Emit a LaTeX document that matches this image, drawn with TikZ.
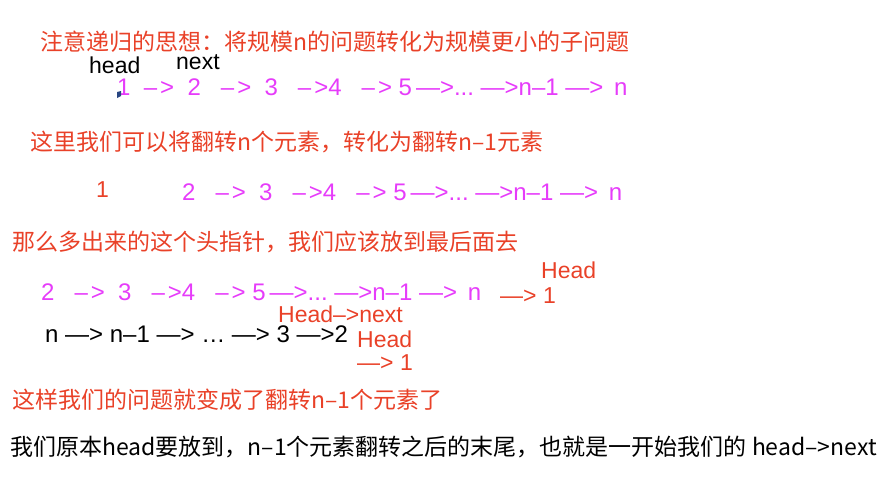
\documentclass[tikz,border=0pt]{standalone}
\usepackage{fontspec}
\setmainfont{Liberation Sans}
\newfontfamily\cjk{Noto Sans CJK SC}
\usepackage{xcolor}
\definecolor{tipred}{RGB}{233,65,40}
\definecolor{chainpink}{RGB}{230,60,250}
\definecolor{cursorblue}{RGB}{40,70,130}
\newcommand{\sar}{–\kern3pt>}

\begin{document}
\begin{tikzpicture}[x=1pt, y=-1pt]
    \tikzstyle{tip} = [text=tipred, font=\cjk\fontsize{23}{28}\selectfont, anchor=base west, inner sep=0pt]
    \tikzstyle{note} = [text=black, font=\cjk\fontsize{23}{28}\selectfont, anchor=base west, inner sep=0pt]
    \tikzstyle{chain} = [text=chainpink, font=\fontsize{24}{28}\selectfont, anchor=base west, inner sep=0pt]
    \tikzstyle{latin} = [text=black, font=\fontsize{23}{28}\selectfont, anchor=base west, inner sep=0pt]
    \tikzstyle{redtxt} = [text=tipred, font=\fontsize{23}{28}\selectfont, anchor=base west, inner sep=0pt]

    \useasboundingbox (0,0) rectangle (885,480);

    % 第一段
    \node[tip] (idea) at (40,50) {注意递归的思想：将规模n的问题转化为规模更小的子问题};
    \node[latin] (head) at (89,73) {head};
    \node[latin] (next) at (176,69) {next};
    \node[chain] (full) at (117,95) {1 \ \sar{} \ 2 \ \ \sar{} \ 3 \ \ \sar{}4 \ \ \sar{} 5\,—>...\ —>n–1 —> \,n};
    \fill[cursorblue] (117,92) -- (121,91) -- (121,96) -- (117,98) -- cycle;

    % 第二段
    \node[tip] (split) at (30,150) {这里我们可以将翻转n个元素，转化为翻转n–1元素};
    \node[redtxt] (one) at (96,197) {1};
    \node[chain] (rest) at (182,200) {2 \ \ \sar{} \ 3 \ \ \sar{}4 \ \ \sar{} 5\,—>...\ —>n–1 —> \,n};

    % 第三段
    \node[tip] (move) at (12,250) {那么多出来的这个头指针，我们应该放到最后面去};
    \node[redtxt] (headA) at (541,278) {Head};
    \node[chain] (restB) at (41,300) {2 \ \ \sar{} \ 3 \ \ \sar{}4 \ \ \sar{} 5\,—>...\ —>n–1 —> \,n};
    \node[redtxt] (toA) at (500,303) {—> 1};
    \node[redtxt] (hnext) at (278,322) {Head–>next};
    \node[latin, font=\fontsize{24}{28}\selectfont] (rev) at (45,342) {n —> n–1 —> … —> 3 —>2};
    \node[redtxt] (headB) at (357,347) {Head};
    \node[redtxt] (toB) at (357,370) {—> 1};

    % 结论
    \node[tip] (sum) at (12,408) {这样我们的问题就变成了翻转n–1个元素了};
    \node[note] (tail) at (10,455) {我们原本head要放到，n–1个元素翻转之后的末尾，也就是一开始我们的 head–>next};
\end{tikzpicture}
\end{document}
